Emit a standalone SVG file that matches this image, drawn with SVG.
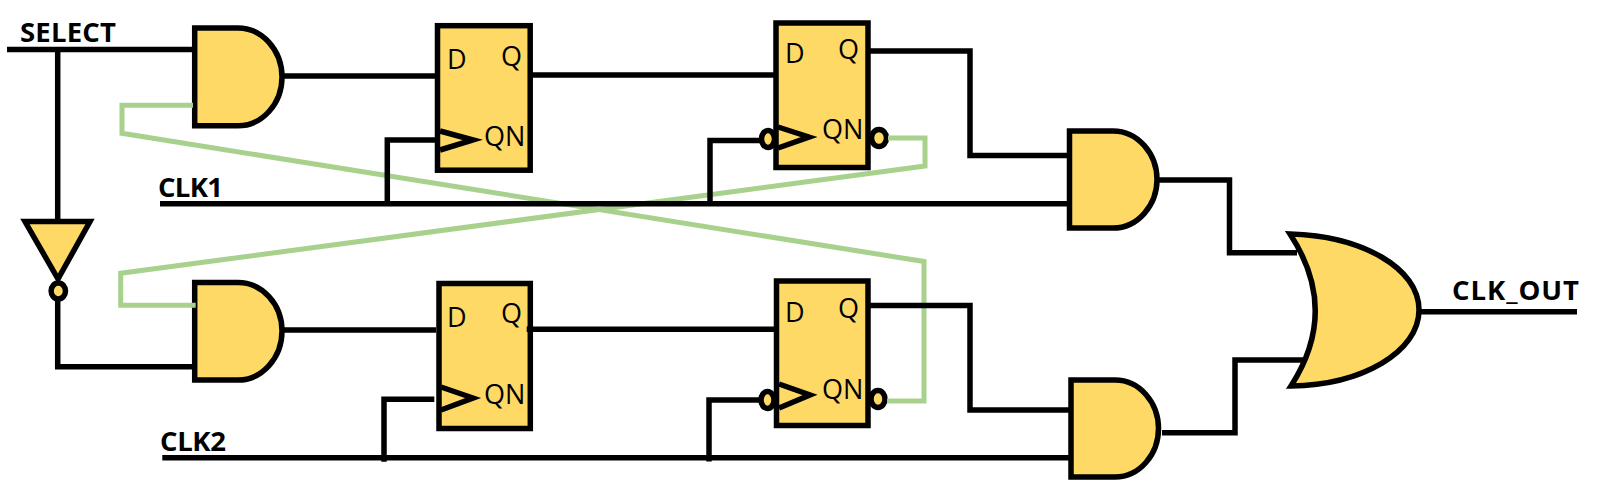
<svg xmlns="http://www.w3.org/2000/svg" width="1600" height="481" viewBox="0 0 1600 481">
<style>
.g{fill:#FFD966;stroke:#000;stroke-width:5.500}
.t{fill:none;stroke:#000;stroke-width:5.500}
.w{fill:none;stroke:#000;stroke-width:5.500}
.f{fill:none;stroke:#A9D18E;stroke-width:5}
.p{font-family:"Open Sans",sans-serif;font-size:27px;fill:#000}
.l{font-family:"Open Sans",sans-serif;font-size:27.500px;font-weight:700;fill:#000}
</style>
<rect width="1600" height="481" fill="#fff"/>
<g id="and1"><path class="g" d="M194.700 28H238C262 28 282 50 282 77C282 104 262 125.800 238 125.800H194.700Z"/></g>
<g id="and2"><path class="g" d="M194.700 282.500H238C262 282.500 282 304 282 331C282 358 262 380 238 380H194.700Z"/></g>
<g id="and3"><path class="g" d="M1069.500 131H1113C1138 131 1157 154 1157 179.500C1157 205 1138 228 1113 228H1069.500Z"/></g>
<g id="and4"><path class="g" d="M1071 380H1115C1140 380 1158.500 403 1158.500 428.500C1158.500 454 1140 477 1115 477H1071Z"/></g>
<g id="or1"><path class="g" d="M1290 234C1362 236 1419 268 1419 310C1419 352 1362 385 1291 386Q1340 310 1290 234Z"/></g>
<g id="inv1"><path class="g" d="M25 221.500H90L58 279Z"/><ellipse class="g" cx="58.300" cy="291" rx="7.200" ry="8"/></g>
<g id="ff1">
<rect class="g" x="437.500" y="25.700" width="92.700" height="144.500"/>
<path class="t" d="M440 131L473 140L440 150"/>
<text class="p" x="447" y="69">D</text><text class="p" x="501" y="65.500">Q</text><text class="p" x="484" y="146">QN</text>
</g>
<g id="ff2">
<rect class="g" x="439" y="283.500" width="91.300" height="145"/>
<path class="t" d="M441 387L473 398L441 410"/>
<text class="p" x="447" y="327.300">D</text><text class="p" x="501" y="323.300">Q</text><text class="p" x="484" y="404">QN</text>
</g>
<g id="ff3">
<rect class="g" x="776" y="23" width="92" height="144.500"/>
<path class="t" d="M778 127L809 137L778 148"/>
<text class="p" x="785" y="63">D</text><text class="p" x="838" y="59">Q</text><text class="p" x="822" y="139">QN</text>
<ellipse class="g" cx="768" cy="139" rx="6.500" ry="8.500"/><ellipse class="g" cx="879" cy="138" rx="7.500" ry="8.500"/>
</g>
<g id="ff4">
<rect class="g" x="776.500" y="281" width="91.500" height="144.500"/>
<path class="t" d="M779 384L810 395L779 408"/>
<text class="p" x="785" y="322">D</text><text class="p" x="838" y="318">Q</text><text class="p" x="822" y="399">QN</text>
<ellipse class="g" cx="767.500" cy="400" rx="6.500" ry="8.500"/><ellipse class="g" cx="878" cy="399" rx="7" ry="8.500"/>
</g>
<g id="connectors">
<path class="f" d="M193 105.300H122V133.300L924 261.500V401H887"/>
<path class="f" d="M888 138H925V166L120.700 273.300V305.300H195.700"/>
<path class="w" d="M7 49.500H192M57.700 50V220M57.700 299V366.700H192"/>
<path class="w" d="M284 76H435M284 330H436"/>
<path class="w" d="M532 75H775M526.700 329.300H775"/>
<path class="w" d="M160 203.700H1067M387.300 204V140H435M710 204V140.500H760"/>
<path class="w" d="M162.300 457.700H1069M384 461.700V399.300H434.300M709 461.500V400H760"/>
<path class="w" d="M870 51H970V155.500H1067M870 305.500H970V410H1069"/>
<path class="w" d="M1159 180H1229.500V252.700H1297M1162 432.700H1235V360H1303"/>
<path class="w" d="M1421 311.700H1577"/>
</g>
<g id="labels">
<text class="l" x="20" y="42.300" textLength="96">SELECT</text>
<text class="l" x="158" y="196.700" textLength="65">CLK1</text>
<text class="l" x="160" y="450.700" textLength="66">CLK2</text>
<text class="l" x="1452" y="300" textLength="127">CLK_OUT</text>
</g>
</svg>
